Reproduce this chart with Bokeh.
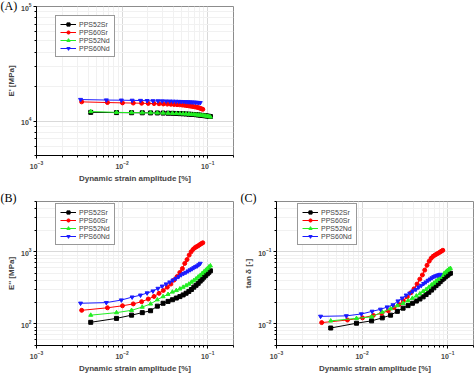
from bokeh.plotting import figure
from bokeh.layouts import column, row
from bokeh.models import Range1d, Legend, LegendItem, FixedTicker, Title
from bokeh.embed import file_html
from bokeh.resources import INLINE

# ---------------- data ----------------
series_names = ["PPS52Sr", "PPS60Sr", "PPS52Nd", "PPS60Nd"]
series_colors = ["#000000", "#ff0000", "#22ee22", "#1a1aff"]
series_markers = ["square", "circle", "triangle", "inverted_triangle"]

strain_52sr = [0.0043, 0.0086, 0.0129, 0.0172, 0.0215, 0.0258, 0.0301, 0.0344, 0.0387, 0.0430,
               0.0473, 0.0516, 0.0559, 0.0602, 0.0645, 0.0688, 0.0731, 0.0774, 0.0817, 0.0860,
               0.0903, 0.0946, 0.0989, 0.1032, 0.1075]
strain_52nd = [0.0043, 0.0086, 0.0129, 0.0172, 0.0215, 0.0258, 0.0301, 0.0344, 0.0387, 0.0430,
               0.0473, 0.0516, 0.0559, 0.0602, 0.0645, 0.0688, 0.0731, 0.0774, 0.0817, 0.0860,
               0.0903, 0.0946, 0.0989, 0.1032, 0.1075]
strain_60sr = [0.00337, 0.00674, 0.0101, 0.0135, 0.0169, 0.0202, 0.0236, 0.0270, 0.0303, 0.0337,
               0.0371, 0.0404, 0.0438, 0.0472, 0.0506, 0.0539, 0.0573, 0.0607, 0.0640, 0.0674,
               0.0708, 0.0741, 0.0775, 0.0809, 0.0843, 0.0876]
strain_60nd = [0.00327, 0.00654, 0.0098, 0.0131, 0.0164, 0.0196, 0.0229, 0.0262, 0.0294, 0.0327,
               0.0360, 0.0392, 0.0425, 0.0458, 0.0490, 0.0523, 0.0556, 0.0589, 0.0621, 0.0654,
               0.0687, 0.0720, 0.0752, 0.0785, 0.0818]

# storage modulus E' [MPa]
e1_52sr = [11900, 11850, 11820, 11800, 11780, 11760, 11730, 11700, 11670, 11640, 11600, 11560,
           11520, 11480, 11440, 11400, 11350, 11300, 11250, 11200, 11150, 11100, 11050, 11000, 10950]
e1_60sr = [14700, 14500, 14400, 14350, 14300, 14250, 14200, 14150, 14100, 14050, 14000, 13950,
           13900, 13850, 13780, 13700, 13620, 13540, 13460, 13380, 13300, 13200, 13100, 12950,
           12800, 12650]
e1_52nd = [12100, 11900, 11850, 11820, 11800, 11780, 11750, 11720, 11690, 11650, 11610, 11570,
           11530, 11490, 11450, 11400, 11350, 11300, 11250, 11200, 11140, 11080, 11020, 10960, 10850]
e1_60nd = [15400, 15250, 15200, 15150, 15100, 15050, 15000, 14980, 14950, 14920, 14890, 14860,
           14830, 14800, 14770, 14740, 14710, 14680, 14650, 14620, 14590, 14560, 14520, 14480, 14440]

# loss modulus E'' [MPa]
e2_52sr = [105, 119, 132, 143, 152, 176, 193, 205, 216, 228, 239, 252, 266, 282, 300, 323, 343,
           365, 392, 417, 445, 470, 495, 520, 545]
e2_60sr = [154, 167, 178, 189, 203, 221, 240, 265, 291, 323, 357, 405, 453, 517, 585, 690, 780,
           900, 1000, 1080, 1140, 1180, 1215, 1260, 1300, 1335]
e2_52nd = [132, 143, 154, 171, 189, 216, 239, 257, 277, 291, 306, 323, 340, 357, 380, 400, 422,
           449, 472, 501, 528, 556, 585, 617, 641]
e2_60nd = [193, 197, 214, 235, 250, 268, 285, 310, 333, 357, 380, 404, 426, 450, 478, 500, 517,
           540, 560, 578, 600, 620, 635, 660, 690]

# loss factor tan delta [-]
td_52sr = [0.00875, 0.0102, 0.0110, 0.0121, 0.0132, 0.0149, 0.0165, 0.0179, 0.0193, 0.0207,
           0.0221, 0.0237, 0.0255, 0.0274, 0.0294, 0.0316, 0.0340, 0.0361, 0.0385, 0.0410,
           0.0430, 0.0453, 0.0471, 0.0492, 0.0505]
td_60sr = [0.0104, 0.0113, 0.0121, 0.0131, 0.0140, 0.0152, 0.0169, 0.0185, 0.0210, 0.0237,
           0.0270, 0.0306, 0.0357, 0.0417, 0.0477, 0.0557, 0.0650, 0.0742, 0.0813, 0.0865,
           0.0900, 0.0930, 0.0958, 0.0988, 0.1020, 0.1050]
td_52nd = [0.0110, 0.0119, 0.0125, 0.0146, 0.0162, 0.0179, 0.0193, 0.0209, 0.0227, 0.0244,
           0.0262, 0.0282, 0.0300, 0.0323, 0.0347, 0.0368, 0.0392, 0.0417, 0.0444, 0.0471,
           0.0497, 0.0523, 0.0550, 0.0574, 0.0590]
td_60nd = [0.0127, 0.0129, 0.0137, 0.0149, 0.0159, 0.0171, 0.0183, 0.0207, 0.0227, 0.0250,
           0.0266, 0.0285, 0.0300, 0.0323, 0.0340, 0.0361, 0.0380, 0.0400, 0.0417, 0.0434,
           0.0450, 0.0462, 0.0470, 0.0478, 0.0485]

strains = [strain_52sr, strain_60sr, strain_52nd, strain_60nd]
x_label = "Dynamic strain amplitude [%]"
x_limits = (0.001, 0.2)
x_decades = [-3, -2, -1]

FONT = "Liberation Sans"


def log_ticker(decades, lo, hi):
    major = [10.0 ** d for d in decades]
    minor = []
    for d in range(min(decades) - 1, max(decades) + 1):
        for k in range(2, 10):
            v = k * 10.0 ** d
            if lo * 0.999 <= v <= hi * 1.001:
                minor.append(v)
    return FixedTicker(ticks=major, minor_ticks=minor)


def make_panel(width, height, ylims, ydecades, ylabel, ydata, tag, mb_left, mb_right, mb_top,
               mb_bottom, legend_pos):
    p = figure(width=width, height=height, x_axis_type="log", y_axis_type="log",
               x_range=Range1d(*x_limits), y_range=Range1d(*ylims),
               output_backend="svg", toolbar_location=None,
               min_border_left=mb_left, min_border_right=mb_right,
               min_border_top=mb_top, min_border_bottom=mb_bottom)
    p.background_fill_color = "white"
    p.border_fill_color = "white"
    p.outline_line_color = "#8c8c8c"
    p.outline_line_width = 1

    xt = log_ticker(x_decades, *x_limits)
    yt = log_ticker(ydecades, *ylims)
    p.xaxis.ticker = xt
    p.yaxis.ticker = yt
    p.xgrid.ticker = xt
    p.ygrid.ticker = yt

    p.xaxis.axis_label = x_label
    p.yaxis.axis_label = ylabel
    for ax in (p.xaxis[0], p.yaxis[0]):
        ax.axis_label_text_font = FONT
        ax.axis_label_text_font_style = "bold"
        ax.axis_label_text_font_size = "8px"
        ax.axis_label_standoff = 2
        ax.major_label_text_font = FONT
        ax.major_label_text_font_style = "bold"
        ax.major_label_text_font_size = "7px"
        ax.major_label_standoff = 2
        ax.major_tick_in = 0
        ax.major_tick_out = 3
        ax.minor_tick_in = 0
        ax.minor_tick_out = 2
        ax.axis_line_color = "black"
        ax.major_tick_line_color = "black"
        ax.minor_tick_line_color = "black"

    p.grid.grid_line_color = "#d9d9d9"
    p.grid.minor_grid_line_color = "#f1f1f1"

    items = []
    for name, color, marker, xs, ys in zip(series_names, series_colors, series_markers,
                                           strains, ydata):
        ln = p.line(xs, ys, line_color=color, line_width=1)
        sc = p.scatter(xs, ys, marker=marker, size=4, fill_color=color, line_color=color)
        items.append(LegendItem(label=name, renderers=[ln, sc]))

    leg = Legend(items=items, location=legend_pos)
    leg.label_text_font = FONT
    leg.label_text_font_size = "7px"
    leg.label_height = 8
    leg.glyph_height = 8
    leg.glyph_width = 16
    leg.label_standoff = 3
    leg.spacing = 0
    leg.padding = 4
    leg.margin = 0
    leg.border_line_color = "#333333"
    leg.border_line_width = 1
    leg.background_fill_alpha = 1
    p.add_layout(leg)

    # panel tag drawn as a left-aligned title pulled into the top-left corner
    p.title = Title(text=tag[0], align="left", vertical_align="bottom", offset=-mb_left,
                    standoff=tag[1], text_font="Liberation Serif", text_font_size="12px",
                    text_font_style="normal", text_color="black")
    return p


pa = make_panel(240, 185, (5000, 100000), [4, 5], "E' [MPa]",
                [e1_52sr, e1_60sr, e1_52nd, e1_60nd],
                ("(A)", -12), 36, 7, 6, 28, (19, 98))
pb = make_panel(240, 190, (50, 5000), [2, 3], "E'' [MPa]",
                [e2_52sr, e2_60sr, e2_52nd, e2_60nd],
                ("(B)", -6), 36, 7, 16, 25, (19, 100))
pc = make_panel(234, 190, (0.005, 0.5), [-2, -1], "tan δ [-]",
                [td_52sr, td_60sr, td_52nd, td_60nd],
                ("(C)", -6), 36, 1, 16, 25, (21, 100))

layout = column(pa, row(pb, pc))

html = file_html(layout, INLINE)
with open("out.html", "w") as f:
    f.write(html)
